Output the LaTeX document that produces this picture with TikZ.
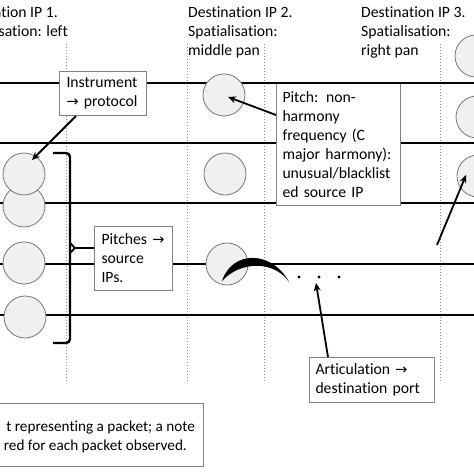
\documentclass[tikz,border=0pt]{standalone}
\usepackage{fontspec}
\setmainfont{Carlito}[Ligatures=NoCommon]
\newfontfamily\arrowfont{DejaVu Sans}
\usetikzlibrary{arrows.meta,calc}
\newcommand{\rarr}{{\arrowfont\fontsize{14.5}{19}\selectfont →}}
\definecolor{noteedge}{RGB}{118,118,118}
\definecolor{notefill}{RGB}{240,240,240}
\definecolor{boxedge}{RGB}{128,128,128}
\definecolor{guidecol}{RGB}{140,140,140}
\begin{document}
\begin{tikzpicture}[x=1pt,y=-1pt,
  every node/.style={font=\fontsize{15.7}{19}\selectfont},
  staff/.style={line width=2.6pt, black},
  guide/.style={draw=guidecol, line width=1pt, dash pattern=on 1.3pt off 1.7pt},
  note/.style={circle, minimum size=42pt, inner sep=0pt, fill=notefill, draw=noteedge, line width=0.8pt},
  box/.style={draw=boxedge, line width=1pt, fill=white, align=left, inner xsep=7pt, inner ysep=0pt, anchor=north west},
  arrow/.style={line width=1.8pt, -{Stealth[length=8pt,width=7pt]}},
  titletext/.style={inner sep=0pt, align=left},
  legtext/.style={anchor=base east, inner sep=0pt, font=\fontsize{15.2}{19}\selectfont},
  bracestyle/.style={line width=2.4pt, rounded corners=4pt},
]
\useasboundingbox (0,0) rectangle (474,474);

% titles
\node[titletext, anchor=base east] (t1a) at (58,17) {ation IP 1.};
\node[titletext, anchor=base east] (t1b) at (68,36) {sation: left};
\node[titletext, anchor=north west] (t2) at (188,6.5) {Destination IP 2.\\Spatialisation:\\middle pan};
\node[titletext, anchor=north west] (t3) at (361,6.5) {Destination IP 3.\\Spatialisation:\\right pan};

% dotted guides
\draw[guide] (66,44) -- (66,383);
\draw[guide] (187,44) -- (187,383);
\draw[guide] (264,44) -- (264,383);
\draw[guide] (440,44) -- (440,383);

% staff lines
\draw[staff] (0,83) -- (474,83);
\draw[staff] (0,143) -- (474,143);
\draw[staff] (0,203) -- (474,203);
\draw[staff] (0,264) -- (474,264);
\draw[staff] (0,315) -- (474,315);

% notes
\node[note] (L2) at (24,206) {};
\node[note] (L1) at (24,174) {};
\node[note] (L3) at (24,263) {};
\node[note] (L4) at (25,317) {};
\node[note] (M1) at (224,95) {};
\node[note] (M2) at (225,174) {};
\node[note] (M3) at (227,264) {};
\node[note] (R1) at (476,56) {};
\node[note] (R2) at (477,117) {};
\node[note] (R3) at (478,176) {};

% boxes
\node[box, minimum width=87pt, minimum height=44pt, text width=73pt] (inst) at (59,71) {Instrument\\\rarr\ protocol};
\node[box, minimum width=124pt, minimum height=122pt, text width=112pt, inner xsep=6pt] (pitch) at (276,83) {Pitch: non-\\harmony\\frequency (C\\major harmony):\\unusual/blacklist\\ed source IP};
\draw[staff] (pitch.north west) -- (pitch.north east);
\node[box, minimum width=78pt, minimum height=64pt, text width=64pt] (pitches) at (94,226) {Pitches \rarr\\source\\IPs.};
\node[box, minimum width=125pt, minimum height=45pt, text width=113pt, inner xsep=6pt] (artic) at (309,357) {Articulation \rarr\\destination port};

% legend box
\node[draw=boxedge, line width=1pt, minimum width=240pt, minimum height=63pt, anchor=north east, inner sep=0pt] (legend) at (204,403) {};
\node[legtext] (leg1) at (195,431) {t representing a packet; a note};
\node[legtext] (leg2) at (187,450) {red for each packet observed.};

% brace
\draw[bracestyle] (53,153) -- (70,153) -- (70,343) -- (53,343);
\coordinate (bracetip) at (75,248);
\draw[line width=2pt] (70,243) -- (bracetip) -- (70,253);
\draw[line width=2pt] (bracetip) -- (bracetip -| pitches.west);

% slur (articulation)
\fill (222,281) .. controls (232,250) and (272,250) .. (289,282)
      .. controls (274,260) and (240,261) .. (222,281) -- cycle;

% dots
\node[minimum width=44pt, minimum height=6pt, inner sep=0pt] (dots) at (319,277) {};
\fill ($(dots.center)+(-20,0)$) circle (1.6pt);
\fill (dots.center) circle (1.6pt);
\fill ($(dots.center)+(20,0)$) circle (1.6pt);

% arrows
\draw[arrow] ($(inst.south west)+(17,0)$) -- ($(L1)+(8,-14)$);
\draw[arrow] ($(pitch.north west)+(0,32)$) -- ($(M1)+(4,2)$);
\coordinate (rfree) at (437,245);
\draw[arrow] (rfree) -- ($(R3)+(-12,-1)$);
\draw[arrow] ($(artic.north west)+(19,0)$) -- ($(dots.center)+(-3,6)$);
\end{tikzpicture}
\end{document}
